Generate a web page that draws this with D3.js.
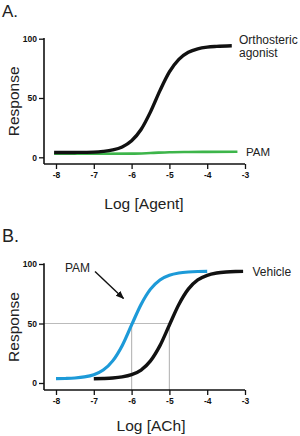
<!DOCTYPE html>
<html><head><meta charset="utf-8">
<script src="https://cdn.jsdelivr.net/npm/d3@7"></script>
<style>
body{margin:0;background:#fff;}
svg{display:block;font-family:"Liberation Sans",Arial,sans-serif;}
.tick text{font-weight:bold;font-size:8.5px;fill:#111;}
.tick line{stroke:#111;stroke-width:1.3;}
</style></head>
<body>
<svg id="c" width="300" height="436"></svg>
<script>
// Panel A: log[Agent] vs response
const agentX = [-8.05,-7.5,-7,-6.75,-6.5,-6.25,-6,-5.75,-5.5,-5.25,-5,-4.75,-4.5,-4.25,-4,-3.75,-3.35];
const agonistY = [4.0,4.1,4.4,5.0,6.2,8.7,13.9,23.4,38.3,56.2,72.0,82.6,88.5,91.5,92.9,93.5,94.0];
const pamAX = [-8.05,-7,-6,-5.5,-5,-4.5,-4,-3.2];
const pamAY = [3.0,3.0,3.1,3.6,4.3,4.5,4.6,4.7];
// Panel B: log[ACh] vs response
const pamBX = [-8,-7.75,-7.5,-7.25,-7,-6.75,-6.5,-6.25,-6,-5.75,-5.5,-5.25,-5,-4.75,-4.5,-4.25,-4];
const pamBY = [3.6,3.8,4.2,5.1,7.0,10.9,18.6,31.4,48.8,66.0,78.9,86.6,90.5,92.4,93.3,93.7,93.8];
const vehX = [-7,-6.75,-6.5,-6.25,-6,-5.75,-5.5,-5.25,-5,-4.75,-4.5,-4.25,-4,-3.75,-3.5,-3.25,-3.05];
const vehY = [3.6,3.8,4.2,5.1,7.0,10.9,18.6,31.4,48.8,66.0,78.9,86.6,90.5,92.4,93.3,93.7,93.8];
const xTicks = [-8,-7,-6,-5,-4,-3];
const yTicks = [0,50,100];
const refY = 50, refX = [-6,-5];

const svg = d3.select("#c");
const x = d3.scaleLinear().domain([-8,-3]).range([56,245]);

function panel(g, y, axisX, axisY, xTitle, titleX, titleY) {
  // axis lines
  g.append("line").attr("x1",axisX).attr("x2",x(-3)).attr("y1",axisY).attr("y2",axisY)
    .attr("stroke","#111").attr("stroke-width",1.6);
  g.append("line").attr("x1",axisX).attr("x2",axisX).attr("y1",y(100)-0.8).attr("y2",axisY)
    .attr("stroke","#111").attr("stroke-width",1.6);
  const ax = g.append("g").attr("transform",`translate(0,${axisY})`)
    .call(d3.axisBottom(x).tickValues(xTicks).tickFormat(d3.format("d")).tickSize(5).tickPadding(3));
  ax.select(".domain").remove();
  ax.selectAll("text").text(d=>String(d));
  const ay = g.append("g").attr("transform",`translate(${axisX},0)`)
    .call(d3.axisLeft(y).tickValues(yTicks).tickSize(5).tickPadding(2));
  ay.select(".domain").remove();
  g.append("text").attr("transform",`translate(19,${(y(100)+axisY)/2}) rotate(-90)`)
    .attr("text-anchor","middle").attr("font-size",15.5).attr("fill","#222").text("Response");
  g.append("text").attr("x",titleX).attr("y",titleY).attr("text-anchor","middle")
    .attr("font-size",15.5).attr("fill","#222").text(xTitle);
}

// ---------- Panel A ----------
const yA = d3.scaleLinear().domain([0,100]).range([157.3,38.7]);
const gA = svg.append("g");
gA.append("text").attr("x",2).attr("y",16.5).attr("font-size",17).attr("fill","#222").text("A.");
panel(gA, yA, 44, 164, "Log [Agent]", 144, 209);
const lineA = d3.line().x(d=>x(d[0])).y(d=>yA(d[1])).curve(d3.curveMonotoneX);
gA.append("path").datum(d3.zip(pamAX,pamAY)).attr("d",lineA)
  .attr("fill","none").attr("stroke","#3db54a").attr("stroke-width",2.6);
gA.append("path").datum(d3.zip(agentX,agonistY)).attr("d",lineA)
  .attr("fill","none").attr("stroke","#111").attr("stroke-width",3.4);
gA.append("text").attr("x",239).attr("y",43.5).attr("font-size",12).attr("fill","#222").text("Orthosteric");
gA.append("text").attr("x",239).attr("y",56.5).attr("font-size",12).attr("fill","#222").text("agonist");
gA.append("text").attr("x",246).attr("y",155.5).attr("font-size",11.5).attr("fill","#222").text("PAM");

// ---------- Panel B ----------
const yB = d3.scaleLinear().domain([0,100]).range([383,264]);
const gB = svg.append("g");
gB.append("text").attr("x",2).attr("y",241.7).attr("font-size",18).attr("fill","#222").text("B.");
// reference lines
gB.append("line").attr("x1",44).attr("x2",x(refX[1])).attr("y1",yB(refY)).attr("y2",yB(refY))
  .attr("stroke","#bbb").attr("stroke-width",1.2);
refX.forEach(v=>{
  gB.append("line").attr("x1",x(v)).attr("x2",x(v)).attr("y1",yB(refY)).attr("y2",390)
    .attr("stroke","#bbb").attr("stroke-width",1.2);
});
panel(gB, yB, 44, 390, "Log [ACh]", 151, 431);
const lineB = d3.line().x(d=>x(d[0])).y(d=>yB(d[1])).curve(d3.curveMonotoneX);
gB.append("path").datum(d3.zip(vehX,vehY)).attr("d",lineB)
  .attr("fill","none").attr("stroke","#111").attr("stroke-width",3.4);
gB.append("path").datum(d3.zip(pamBX,pamBY)).attr("d",lineB)
  .attr("fill","none").attr("stroke","#1d9ad8").attr("stroke-width",3.2);
gB.append("text").attr("x",65).attr("y",272).attr("font-size",12).attr("fill","#222").text("PAM");
gB.append("text").attr("x",252.5).attr("y",275.5).attr("font-size",12).attr("fill","#222").text("Vehicle");
// arrow
svg.append("defs").append("marker").attr("id","ah").attr("viewBox","0 0 10 10")
  .attr("refX",9).attr("refY",5).attr("markerWidth",6).attr("markerHeight",6)
  .attr("markerUnits","strokeWidth").attr("orient","auto")
  .append("path").attr("d","M0,1 L10,5 L0,9 Z").attr("fill","#111");
gB.append("line").attr("x1",95).attr("y1",271.5).attr("x2",123.5).attr("y2",298.5)
  .attr("stroke","#111").attr("stroke-width",1.4).attr("marker-end","url(#ah)");
</script>
</body></html>
